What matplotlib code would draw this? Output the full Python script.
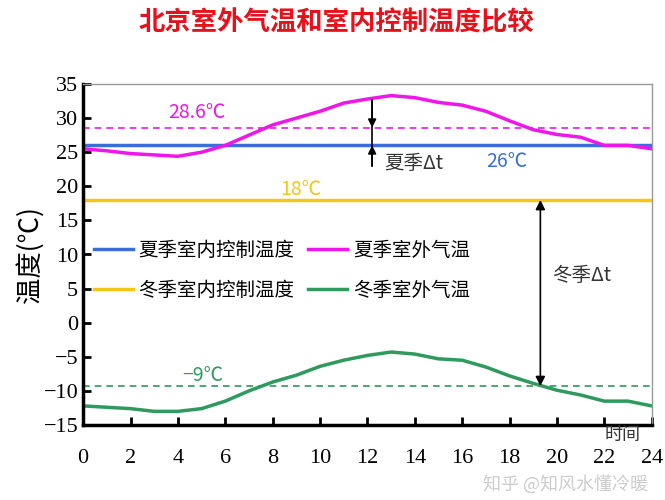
import matplotlib.pyplot as plt

plt.rcParams['font.family'] = ['Liberation Serif', 'Noto Sans CJK SC', 'DejaVu Sans']
plt.rcParams['axes.unicode_minus'] = False

# data
hours = list(range(25))
summer_out = [25.5, 25.2, 24.8, 24.6, 24.4, 25.0, 26.0, 27.5, 29.0, 30.0, 31.0, 32.2, 32.8,
              33.3, 33.0, 32.3, 31.9, 31.0, 29.6, 28.3, 27.6, 27.2, 26.0, 26.0, 25.5]
winter_out = [-12.2, -12.4, -12.6, -13.0, -13.0, -12.6, -11.5, -10.0, -8.7, -7.7, -6.4, -5.5, -4.8,
              -4.3, -4.6, -5.3, -5.5, -6.5, -7.8, -8.9, -9.9, -10.6, -11.5, -11.5, -12.2]
summer_in = 26
winter_in = 18
summer_design = 28.6
winter_design = -9.3

cjk = ['Noto Sans CJK SC', 'DejaVu Sans']

fig = plt.figure(figsize=(6.65, 5), dpi=100)
ax = fig.add_axes([0.125, 0.15, 0.855, 0.682])

l1 = ax.axhline(summer_in, color='#3a6fd8', lw=2.5, label='夏季室内控制温度')
l2, = ax.plot(hours, summer_out, color='#ee16e8', lw=2.5, label='夏季室外气温')
l3 = ax.axhline(winter_in, color='#f5c518', lw=2.5, label='冬季室内控制温度')
l4, = ax.plot(hours, winter_out, color='#2e9a5e', lw=2.5, label='冬季室外气温')
ax.axhline(summer_design, color='#ee16e8', lw=1.2, ls=(0, (4, 3)))
ax.axhline(winter_design, color='#2e9a5e', lw=1.2, ls=(0, (4, 3)))

# summer delta t arrows
ax.plot([12.2, 12.2], [23.0, 32.6], color='black', lw=1.2)
ax.annotate('', xy=(12.2, summer_design), xytext=(12.2, 32.6),
            arrowprops=dict(arrowstyle='-|>', color='black', lw=1.2, mutation_scale=12,
                            shrinkA=0, shrinkB=0))
ax.annotate('', xy=(12.2, summer_in), xytext=(12.2, 23.0),
            arrowprops=dict(arrowstyle='-|>', color='black', lw=1.2, mutation_scale=12,
                            shrinkA=0, shrinkB=0))
# winter delta t arrow
ax.annotate('', xy=(19.3, winter_in), xytext=(19.3, winter_design),
            arrowprops=dict(arrowstyle='<|-|>', color='black', lw=1.2, mutation_scale=14,
                            shrinkA=0, shrinkB=0))

ax.text(12.7, 23.4, '夏季Δt', fontsize=14, color='#333333', family=cjk, va='center')
ax.text(17.0, 23.6, '26℃', fontsize=14, color='#3a6fd8', family=cjk, va='center')
ax.text(3.6, 30.8, '28.6℃', fontsize=14, color='#ee16e8', family=cjk, va='center')
ax.text(8.3, 19.6, '18℃', fontsize=14, color='#f5c518', family=cjk, va='center')
ax.text(19.8, 6.9, '冬季Δt', fontsize=14, color='#333333', family=cjk, va='center')
ax.text(4.2, -7.8, '−9℃', fontsize=14, color='#2e9a5e', family=cjk, va='center')
ax.text(22.0, -16.5, '时间', fontsize=13, color='#333333', family=cjk, va='center')

ax.set_xlim(0, 24)
ax.set_ylim(-15, 35)
ax.set_xticks(range(0, 25, 2))
ax.set_yticks(range(-15, 36, 5))
ax.set_yticklabels([str(v).replace('-', '−') for v in range(-15, 36, 5)])
ax.tick_params(direction='in', length=6, width=2, labelsize=16, colors='black')
ax.tick_params(axis='x', pad=17)
for s in ['left', 'bottom']:
    ax.spines[s].set_linewidth(2.5)
for s in ['top', 'right']:
    ax.spines[s].set_color('#999999')
    ax.spines[s].set_linewidth(1)

ax.set_ylabel('温度(℃)', fontsize=19, family=cjk, labelpad=0)

ax.legend([l1, l3, l2, l4], [l1.get_label(), l3.get_label(), l2.get_label(), l4.get_label()],
          loc='upper left', bbox_to_anchor=(0.005, 0.565), ncol=2, frameon=False,
          prop={'family': cjk, 'size': 14}, handlelength=2.0, handletextpad=0.3,
          columnspacing=0.7, labelspacing=0.95, borderaxespad=0)

fig.text(0.505, 0.955, '北京室外气温和室内控制温度比较', color='#e8101a', fontsize=19,
         fontweight='bold', family=cjk, ha='center', va='center')
fig.text(0.975, 0.032, '知乎 @知风水懂冷暖', color='#cccccc', fontsize=13, family=cjk,
         ha='right', va='center')

fig.savefig('out.png', dpi=100)
